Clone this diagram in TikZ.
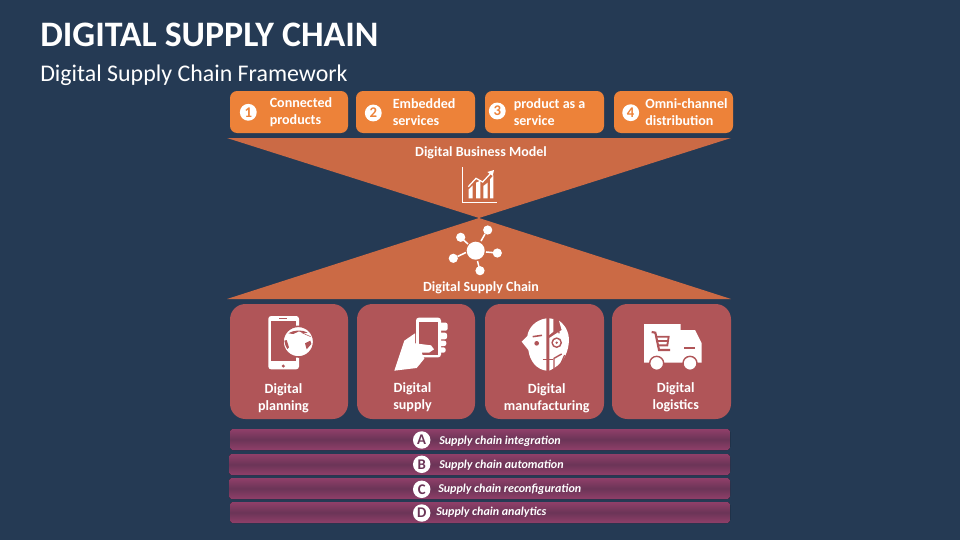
\documentclass[tikz,border=0pt]{standalone}
\usepackage{fontspec}
\setmainfont{Carlito}
\definecolor{slidebg}{HTML}{253A54}
\definecolor{boxorange}{HTML}{ED8239}
\definecolor{triorange}{HTML}{CB6A45}
\definecolor{boxred}{HTML}{B05558}
\definecolor{barlight}{HTML}{903F69}
\definecolor{bardark}{HTML}{6B3557}
\tikzset{
  orangebox/.style={fill=boxorange,rounded corners=5pt},
  redbox/.style={fill=boxred,rounded corners=11pt},
  barbox/.style={top color=barlight,bottom color=barlight,middle color=bardark,rounded corners=2pt},
  orangetext/.style={white,inner sep=0pt,anchor=west,align=left,font=\fontsize{10}{12.1}\selectfont\bfseries},
  redtext/.style={white,inner sep=0pt,align=center,font=\fontsize{10}{12.1}\selectfont\bfseries},
  midtext/.style={white,inner sep=0pt,font=\fontsize{9.95}{11}\selectfont\bfseries},
  bartext/.style={white,inner sep=0pt,anchor=west,font=\fontsize{8.55}{10}\selectfont\bfseries\itshape},
  numbadge/.style={circle,fill=white,text=boxorange,inner sep=0pt,minimum size=12pt,font=\fontsize{10.5}{10}\selectfont\bfseries},
  letterbadge/.style={circle,fill=white,text=bardark,inner sep=0pt,minimum size=12.4pt,font=\fontsize{10.5}{10}\selectfont\bfseries},
  zoomed/.style={x=0.008333cm,y=-0.008333cm}
}
\begin{document}
\begin{tikzpicture}[x=0.025cm,y=-0.025cm]
  \fill [slidebg] (0,0) rectangle (960,540);
  \useasboundingbox (0,0) rectangle (960,540);
  \node (title) [white,inner sep=0pt,anchor=west,font=\fontsize{25.5}{28}\selectfont\bfseries] at (40,34.5) {DIGITAL SUPPLY CHAIN};
  \node (subtitle) [white,inner sep=0pt,anchor=west,font=\fontsize{17}{20}\selectfont] at (40,75) {Digital Supply Chain Framework};

  \fill [orangebox] (230,91) rectangle (348,133);
  \fill [orangebox] (356,91) rectangle (475,133);
  \fill [orangebox] (485,91) rectangle (604,133);
  \fill [orangebox] (614,91) rectangle (733,133);
  \node (one) [numbadge] at (248.3,112.3) {1};
  \node (two) [numbadge] at (373.3,113) {2};
  \node (three) [numbadge] at (497.3,111) {3};
  \node (four) [numbadge] at (630.7,112.7) {4};
  \node (connected) [orangetext] at (269.5,111.8) {Connected\\products};
  \node (embedded) [orangetext] at (392.5,111.8) {Embedded\\services};
  \node (product) [orangetext] at (513.5,111.8) {product as a\\service};
  \node (omni) [orangetext] at (645,111.8) {Omni-channel\\distribution};

  \fill [triorange] (227,138) -- (731,138) -- (479,218) -- cycle;
  \fill [triorange] (479,218) -- (731,299) -- (227,299) -- cycle;
  \node (model) [midtext] at (481,152.5) {Digital Business Model};
  \node (chain) [midtext] at (481,287.5) {Digital Supply Chain};

  \begin{scope}[shift={(440,160)},zoomed]
    \draw [white,line width=0.9pt] (68,22) -- (68,127) -- (172,127);
    \fill [white] (86,88) -- (98,76) -- (98,115) -- (86,115) -- cycle;
    \fill [white] (108,68) -- (121,62) -- (121,115) -- (108,115) -- cycle;
    \fill [white] (130,78) -- (143,68) -- (143,115) -- (130,115) -- cycle;
    \fill [white] (150,58) -- (160,46) -- (160,115) -- (150,115) -- cycle;
    \draw [white,line width=0.9pt] (85,80) -- (108,55) -- (128,66) -- (152,40);
    \fill [white] (162,30) -- (158,48) -- (142,36) -- cycle;
  \end{scope}

  \fill [white] (475.7,250.7) circle (9);
  \fill [white] (487.7,230) circle (4.6);
  \fill [white] (497.3,253) circle (4.6);
  \fill [white] (480,270.7) circle (4.6);
  \fill [white] (453.3,258.3) circle (4.6);
  \fill [white] (460.7,237.3) circle (4.6);
  \draw [white,line width=1.1pt] (481,241) -- (485,234);
  \draw [white,line width=1.1pt] (486,252) -- (493,252.6);
  \draw [white,line width=1.1pt] (477.5,261) -- (479,267);
  \draw [white,line width=1.1pt] (466,252.5) -- (457.5,256.5);
  \draw [white,line width=1.1pt] (468,244) -- (463.5,240);

  \fill [redbox] (230,304) rectangle (348,419);
  \fill [redbox] (357,304) rectangle (475,419);
  \fill [redbox] (485,304) rectangle (604,419);
  \fill [redbox] (612,304) rectangle (731,419);
  \node (planning) [redtext] at (283.5,398) {Digital\\planning};
  \node (supply) [redtext] at (412.5,397) {Digital\\supply};
  \node (manufacturing) [redtext] at (546.7,398) {Digital\\manufacturing};
  \node (logistics) [redtext] at (675.7,397) {Digital\\logistics};

  \begin{scope}[shift={(225,300)},zoomed]
    \fill [white,rounded corners=2pt] (130,48) rectangle (222,208);
    \fill [boxred] (138,64) rectangle (214,182);
    \fill [boxred] (175,198) circle (5);
    \draw [boxred,line width=0.6pt] (163,56) -- (187,56);
    \fill [white,draw=boxred,line width=1.1pt] (220,125) circle (46);
    \fill [boxred] (190,100) .. controls (205,90) and (232,88) .. (248,98) -- (236,100) -- (222,94) -- (205,102) -- cycle;
    \fill [boxred] (178,122) -- (185,120) -- (192,142) -- (187,147) .. controls (182,140) and (179,131) .. (178,122) -- cycle;
    \fill [boxred] (240,130) -- (256,122) -- (259,132) -- (245,148) -- cycle;
    \draw [boxred,line width=0.4pt] (230,98) -- (257,110);
  \end{scope}

  \begin{scope}[shift={(225,300)},zoomed]
    \fill [white,rounded corners=2pt] (573,53) rectangle (648,172);
    \fill [boxred] (582,66) rectangle (640,165);
    \fill [white,rounded corners=1.5pt] (640,68) rectangle (668,92);
    \fill [white,rounded corners=1.5pt] (640,98) rectangle (666,118);
    \fill [white,rounded corners=1.5pt] (640,122) rectangle (664,138);
    \fill [white,rounded corners=1.5pt] (640,142) rectangle (662,158);
    \fill [white] (508,212) -- (538,122) -- (570,100) -- (570,130) -- (618,136) -- (627,148) -- (612,158)
      -- (590,158) -- (598,176) -- (575,204) -- cycle;
  \end{scope}

  \begin{scope}[shift={(480,300)},zoomed]
    \fill [white] (199,55) .. controls (165,60) and (145,85) .. (142,108) -- (125,125) -- (145,150)
      .. controls (150,185) and (170,208) .. (199,212) -- cycle;
    \fill [white] (208,55) -- (220,57) -- (220,95) -- (208,105) -- cycle;
    \fill [white] (208,114) -- (245,90) -- (237,62) .. controls (260,78) and (270,105) .. (266,132)
      .. controls (262,165) and (245,195) .. (208,212) -- cycle;
    \fill [boxred] (230,128) circle (16);
    \fill [white] (230,128) circle (11);
    \fill [boxred] (230,128) circle (4);
    \fill [boxred] (170,130) circle (7);
    \draw [boxred,line width=1.1pt] (158,110) -- (186,106);
    \draw [boxred,line width=1.1pt] (188,178) -- (218,178);
    \draw [boxred,line width=0.9pt] (232,60) -- (237,100);
    \draw [boxred,line width=1pt] (222,210) -- (222,175) -- (245,162);
    \draw [boxred,line width=0.9pt] (243,190) -- (254,165);
  \end{scope}

  \begin{scope}[shift={(480,300)},zoomed]
    \fill [white] (492,72) -- (602,72) -- (602,90) -- (645,90) -- (665,130) -- (665,188) -- (492,188) -- cycle;
    \fill [white,draw=boxred,line width=1pt] (530,190) circle (21);
    \fill [white,draw=boxred,line width=1pt] (630,190) circle (21);
    \draw [boxred,line width=1.5pt] (515,96) -- (526,98) -- (537,150) -- (570,150);
    \draw [boxred,line width=1.3pt] (530,110) -- (566,110) -- (562,136) -- (535,136);
    \draw [boxred,line width=1.3pt] (533,123) -- (563,123);
    \draw [boxred,line width=1.4pt] (612,145) -- (645,145);
  \end{scope}

  \fill [barbox] (230,429) rectangle (730,450);
  \fill [barbox] (229,454) rectangle (730,475);
  \fill [barbox] (229,478) rectangle (730,499);
  \fill [barbox] (230,502) rectangle (730,523);
  \node (a) [letterbadge] at (421.7,440) {A};
  \node (b) [letterbadge] at (421.7,464.3) {B};
  \node (c) [letterbadge] at (421.7,489.3) {C};
  \node (d) [letterbadge] at (421.7,513) {D};
  \node (integration) [bartext] at (439,441) {Supply chain integration};
  \node (automation) [bartext] at (439,465) {Supply chain automation};
  \node (reconfiguration) [bartext] at (438,489) {Supply chain reconfiguration};
  \node (analytics) [bartext] at (436,512) {Supply chain analytics};
\end{tikzpicture}
\end{document}
